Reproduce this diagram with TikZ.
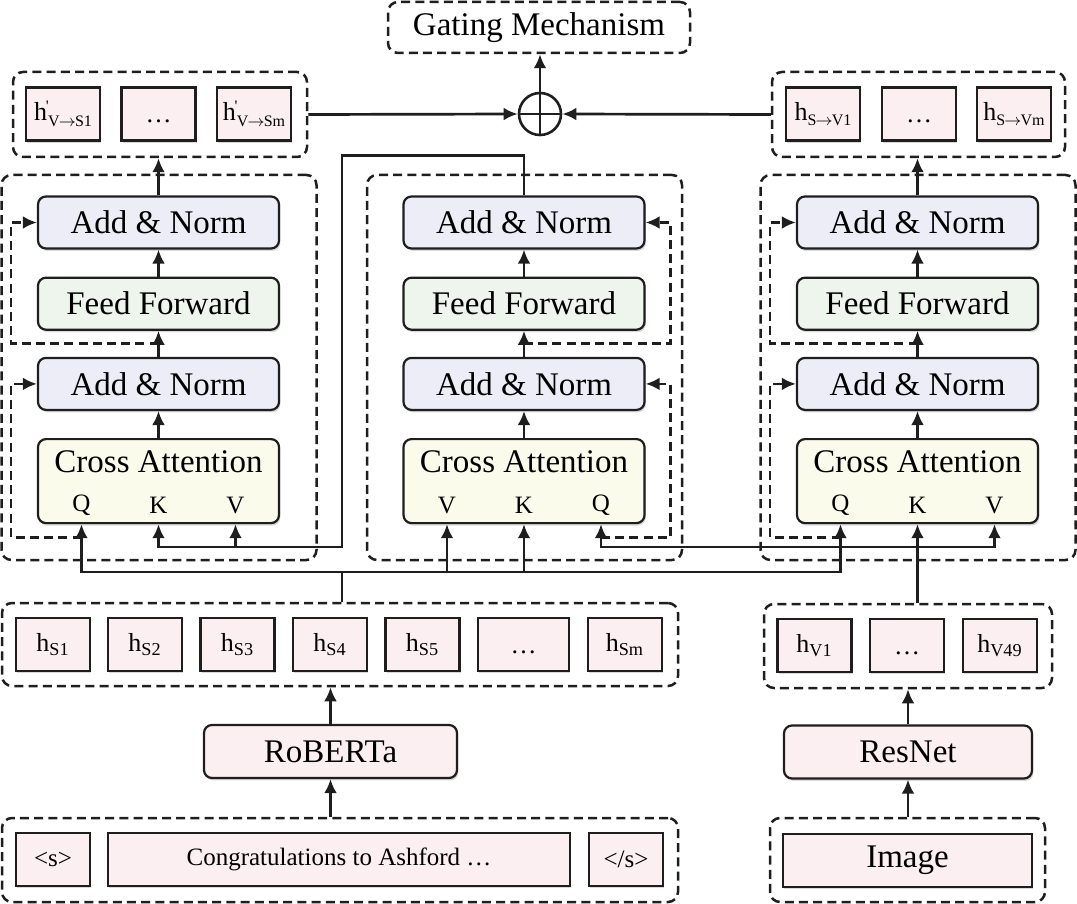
\documentclass[tikz,border=0pt]{standalone}
\usepackage{fontspec}
\setmainfont{Liberation Serif}
\usepackage{tikz}
\usetikzlibrary{arrows.meta,positioning,shadows,calc}
\definecolor{fuseink}{HTML}{1E1E1E}
\definecolor{fusepink}{HTML}{FCEFF1}
\definecolor{fusenorm}{HTML}{EDEDF8}
\definecolor{fuseffn}{HTML}{EEF5EC}
\definecolor{fuseattn}{HTML}{FBFBEC}
\newcommand{\blockfont}{\fontsize{16.5}{19}\selectfont}
\newcommand{\portfont}{\fontsize{12.5}{14}\selectfont}
\newcommand{\hfont}{\fontsize{13}{15}\selectfont}
\newcommand{\arrsub}[2]{\raisebox{-2.8pt}{\fontsize{8}{9}\selectfont #1\kern-0.4pt$\rightarrow$\kern-0.4pt#2}}
\newcommand{\hprime}{h\kern-0.6pt\raisebox{4.5pt}{\fontsize{8}{9}\selectfont\textquotesingle}\kern-0.3pt}
\newcommand{\lowdots}{\vphantom{h}…}

\begin{document}
\begin{tikzpicture}[x=0.5pt, y=-0.5pt,
  softshadow/.style={drop shadow={shadow xshift=0.7pt, shadow yshift=-1.2pt, opacity=0.3}},
  dashgroup/.style={draw=fuseink, line width=1.25pt, dash pattern=on 4.5pt off 2.6pt, rounded corners=5pt, inner sep=0pt},
  tokbox/.style={draw=fuseink, line width=1.1pt, fill=fusepink, minimum width=37pt, minimum height=26.5pt, inner sep=1pt, font=\hfont, softshadow},
  encbox/.style={tokbox, rounded corners=4pt, font=\blockfont},
  normbox/.style={draw=fuseink, line width=1.1pt, rounded corners=4pt, fill=fusenorm, minimum width=120.5pt, minimum height=26pt, font=\blockfont, softshadow},
  ffnbox/.style={normbox, fill=fuseffn},
  attnbox/.style={normbox, fill=fuseattn, minimum height=42pt},
  portlabel/.style={font=\portfont, inner sep=0pt},
  oplus/.style={circle, draw=fuseink, line width=1.3pt, minimum size=21pt, inner sep=0pt,
    path picture={\draw[fuseink, line width=1.3pt] (path picture bounding box.north) -- (path picture bounding box.south) (path picture bounding box.west) -- (path picture bounding box.east);}},
  link/.style={draw=fuseink, line width=1.35pt, -{Latex[length=7pt, width=6.4pt]}},
  wire/.style={draw=fuseink, line width=1.35pt},
  resid/.style={link, dash pattern=on 4.5pt off 2.6pt}
]
\useasboundingbox (0,0) rectangle (1077,904);

% fusion head
\node[dashgroup, minimum width=151pt, minimum height=25.5pt, font=\blockfont] (gate) at (539,27.5) {Gating Mechanism};
\node[oplus] (sum) at (540,114) {};

% output tokens
\node[tokbox] (vs1) at (63,114) {\hprime\arrsub{V}{S1}};
\node[tokbox] (vsdots) at (158.5,114) {\lowdots};
\node[tokbox] (vsm) at (254,114) {\hprime\arrsub{V}{Sm}};
\node[dashgroup, minimum width=147pt, minimum height=42.5pt] (lout) at (160,114.5) {};
\node[tokbox] (sv1) at (823,114) {h\arrsub{S}{V1}};
\node[tokbox] (svdots) at (919,114) {\lowdots};
\node[tokbox] (svm) at (1014,114) {h\arrsub{S}{Vm}};
\node[dashgroup, minimum width=146.5pt, minimum height=42.5pt] (rout) at (918.5,114.5) {};

% the three cross-attention blocks
\foreach \c/\x/\a/\A/\b/\B in {l/158.5/q/Q/v/V, m/524/v/V/q/Q, r/917.5/q/Q/v/V}{
  \node[dashgroup, minimum width=157.5pt, minimum height=192.5pt] (\c_blk) at (\x+0.5,367.5) {};
  \node[normbox] (\c_an1) at (\x,222.5) {Add \& Norm};
  \node[ffnbox, below=13.5pt of \c_an1] (\c_ffn) {Feed Forward};
  \node[normbox, below=13pt of \c_ffn] (\c_an2) {Add \& Norm};
  \node[attnbox, below=13.5pt of \c_an2] (\c_att) {};
  \node[font=\blockfont, inner sep=0pt] (\c_title) at ([yshift=-12pt]\c_att.north) {Cross Attention};
  \node[portlabel] (\c_\a) at ([xshift=-38.5pt, yshift=9.5pt]\c_att.south) {\A};
  \node[portlabel] (\c_k) at ([yshift=9.5pt]\c_att.south) {K};
  \node[portlabel] (\c_\b) at ([xshift=38.5pt, yshift=9.5pt]\c_att.south) {\B};
  \draw[link] (\c_att) -- (\c_an2);
  \draw[link] (\c_an2) -- (\c_ffn);
  \draw[link] (\c_ffn) -- (\c_an1);
}

% residual paths
\foreach \c in {l, r}{
  \draw[resid] ($(\c_an2.north)!0.5!(\c_ffn.south)$) -| ([xshift=-13pt]\c_an1.west) -- (\c_an1.west);
  \draw[resid] ($(\c_q |- \c_att.south)+(0,13)$) -| ([xshift=-13pt]\c_an2.west) -- (\c_an2.west);
}
\draw[resid] ($(m_an2.north)!0.5!(m_ffn.south)$) -| ([xshift=12.5pt]m_an1.east) -- (m_an1.east);
\draw[resid] ($(m_q |- m_att.south)+(0,13)$) -| ([xshift=12.5pt]m_an2.east) -- (m_an2.east);

% text side
\foreach \i/\x in {1/53, 2/145, 3/237.5, 4/330, 5/422.5}
  \node[tokbox] (hs\i) at (\x,644.5) {h\textsubscript{S\i}};
\node[tokbox, minimum width=45.5pt] (hsdots) at (523.5,644.5) {\lowdots};
\node[tokbox] (hsm) at (625,644.5) {h\textsubscript{Sm}};
\node[dashgroup, minimum width=338pt, minimum height=41.5pt] (hsgrp) at (340,644.5) {};
\node[encbox, minimum width=126.5pt] (roberta) at (330.5,751.5) {RoBERTa};
\node[tokbox, font=\portfont] (bos) at (53,859.5) {<s>};
\node[tokbox, font=\portfont, minimum width=231pt] (sent) at (339,859.5) {Congratulations to Ashford …};
\node[tokbox, font=\portfont] (eos) at (626,859.5) {</s>};
\node[dashgroup, minimum width=338pt, minimum height=42pt] (tokgrp) at (340,860) {};

% image side
\node[tokbox] (hv1) at (814.5,645.5) {h\textsubscript{V1}};
\node[tokbox] (hvdots) at (907,645.5) {\lowdots};
\node[tokbox] (hv49) at (1000,645.5) {h\textsubscript{V49}};
\node[dashgroup, minimum width=144pt, minimum height=42pt] (hvgrp) at (908,646) {};
\node[encbox, minimum width=124pt] (resnet) at (908,752) {ResNet};
\node[tokbox, font=\blockfont, minimum width=124.5pt] (img) at (907.5,860.5) {Image};
\node[dashgroup, minimum width=137.5pt, minimum height=42pt] (imggrp) at (907.5,860) {};

% encoders
\draw[link] (tokgrp.north -| roberta) -- (roberta.south);
\draw[link] (roberta.north) -- (roberta.north |- hsgrp.south);
\draw[link] (imggrp.north -| resnet) -- (resnet.south);
\draw[link] (resnet.north) -- (resnet.north |- hvgrp.south);

% text features
\coordinate (sbus) at (342,572);
\draw[wire] (hsgrp.north -| sbus) -- (sbus);
\draw[link] (sbus) -| (l_q |- l_att.south);
\draw[link] (sbus) -| (r_q |- r_att.south);
\draw[link] (m_v |- sbus) -- (m_v |- m_att.south);
\draw[link] (m_k |- sbus) -- (m_k |- m_att.south);

% image features
\coordinate (vbus) at (917.5,547);
\draw[link] (hvgrp.north -| r_k) -- (r_k |- r_att.south);
\draw[link] (vbus) -| (m_q |- m_att.south);
\draw[link] (vbus) -| (r_v |- r_att.south);

% middle block feeds the left one
\coordinate (kvbus) at (342,547);
\draw[link] (m_an1.north) -- ++(0,-40) -| (kvbus) -| (l_k |- l_att.south);
\draw[link] (l_v |- kvbus) -- (l_v |- l_att.south);

% outputs and fusion
\draw[link] (l_an1.north) -- (l_an1.north |- lout.south);
\draw[link] (r_an1.north) -- (r_an1.north |- rout.south);
\draw[link] (lout.east) -- (sum.west);
\draw[link] (rout.west) -- (sum.east);
\draw[link] (sum.north) -- (sum.north |- gate.south);
\end{tikzpicture}
\end{document}
